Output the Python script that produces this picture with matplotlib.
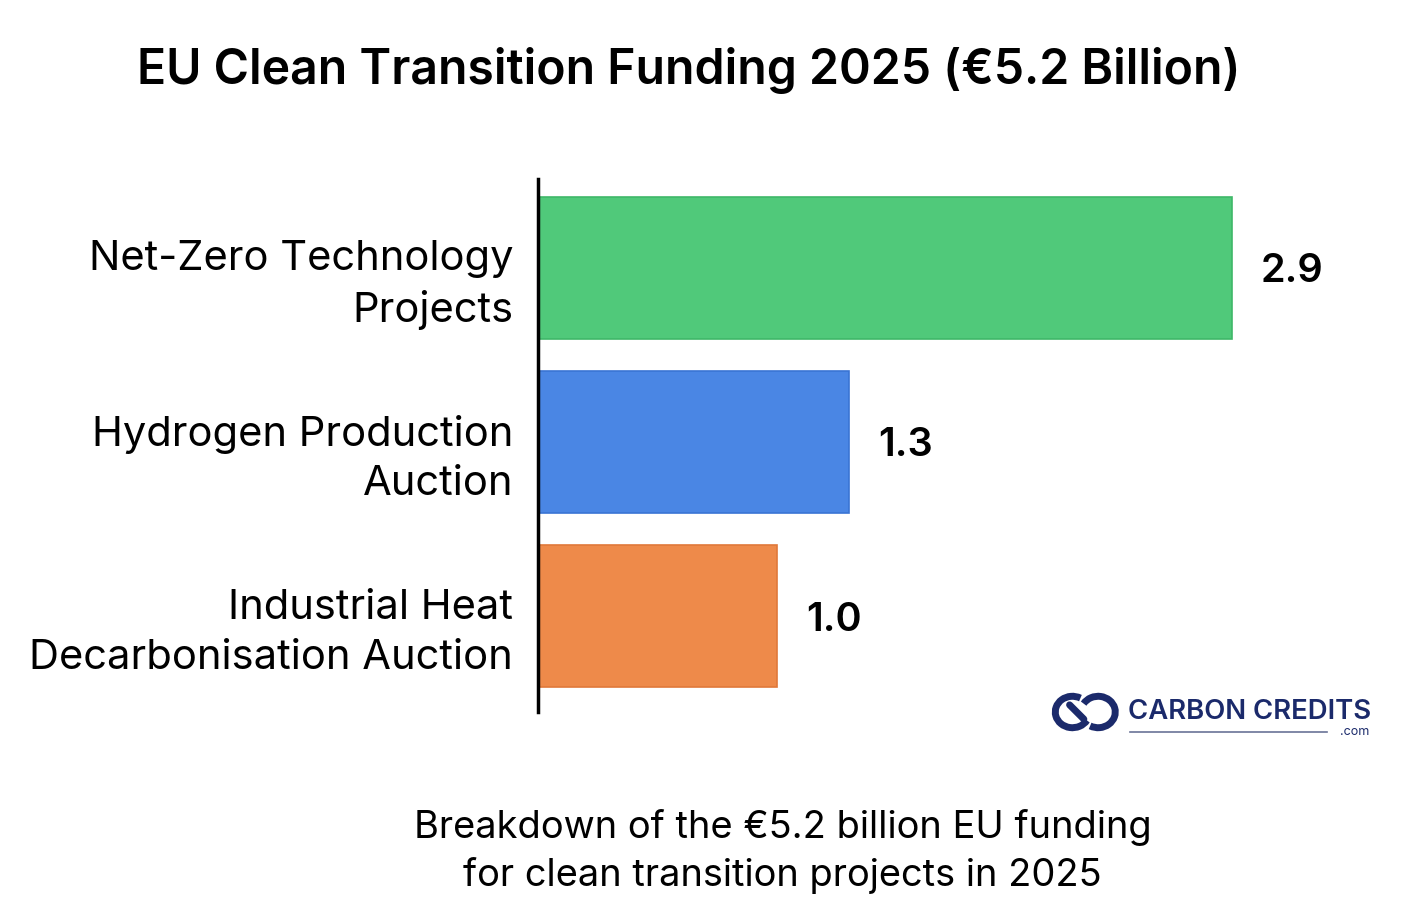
import matplotlib.pyplot as plt
from matplotlib.patches import Arc
from matplotlib.transforms import ScaledTranslation

plt.rcParams['font.family'] = ['Inter', 'DejaVu Sans']

# datos
categorias = ['Net-Zero Technology\nProjects', 'Hydrogen Production\nAuction',
              'Industrial Heat\nDecarbonisation Auction']
valores = [2.9, 1.3, 1.0]
colores = ['#50c97a', '#4a86e4', '#ee8a4a']
bordes = ['#3fb868', '#3a74d4', '#e0783a']
etiquetas = ['2.9', '1.3', '1.0']

fig = plt.figure(figsize=(14.28, 9.2), dpi=100)
ax = fig.add_axes([0.3768, 0.225, 0.6032, 0.5793])

y = range(len(valores))
ax.barh(y, valores, height=0.816, color=colores, edgecolor=bordes, linewidth=1.2)
ax.set_ylim(2.549, -0.511)
ax.set_xlim(0, 3.6)
ax.set_yticks(list(y))
ax.set_yticklabels(categorias, fontsize=30, ha='right', multialignment='right',
                   linespacing=1.38)
ax.tick_params(axis='y', length=0, pad=18)
# bajar un poco las etiquetas
for lab in ax.get_yticklabels():
    lab.set_transform(lab.get_transform() + ScaledTranslation(0, -0.06, fig.dpi_scale_trans))
ax.set_xticks([])
for s in ['top', 'right', 'bottom']:
    ax.spines[s].set_visible(False)
ax.spines['left'].set_linewidth(2.5)

for i, (v, t) in enumerate(zip(valores, etiquetas)):
    ax.annotate(t, (v, i), xytext=(21, -2), textcoords='offset points',
                va='center', ha='left', fontsize=28.5, fontweight='semibold')

fig.text(0.482, 0.923, 'EU Clean Transition Funding 2025 (€5.2 Billion)',
         ha='center', va='center', fontsize=34.7, fontweight='semibold')
fig.text(0.548, 0.074, 'Breakdown of the €5.2 billion EU funding\nfor clean transition projects in 2025',
         ha='center', va='center', fontsize=27.4, linespacing=1.38)

# logo
navy = '#1b2a6b'
fig.text(0.790, 0.226, 'CARBON CREDITS', ha='left', va='center', fontsize=19.8,
         fontweight='semibold', color=navy)
fig.add_artist(plt.Line2D([0.791, 0.929], [0.2035, 0.2035], color='#6a7397', lw=1.2))
fig.text(0.959, 0.204, '.com', ha='right', va='center', fontsize=9, color=navy)
lax = fig.add_axes([0.735, 0.19, 0.05, 0.07])
lax.set_xlim(0, 5)
lax.set_ylim(0, 3)
lax.set_aspect('equal')
lax.axis('off')
lax.add_patch(Arc((1.6, 1.5), 2.4, 2.2, theta1=60, theta2=330, lw=5, color=navy))
lax.add_patch(Arc((3.4, 1.5), 2.4, 2.2, theta1=240, theta2=150, lw=5, color=navy))
lax.plot([1.4, 2.4], [2.0, 1.0], color=navy, lw=5, solid_capstyle='round')

plt.savefig('out.png', dpi=100)
